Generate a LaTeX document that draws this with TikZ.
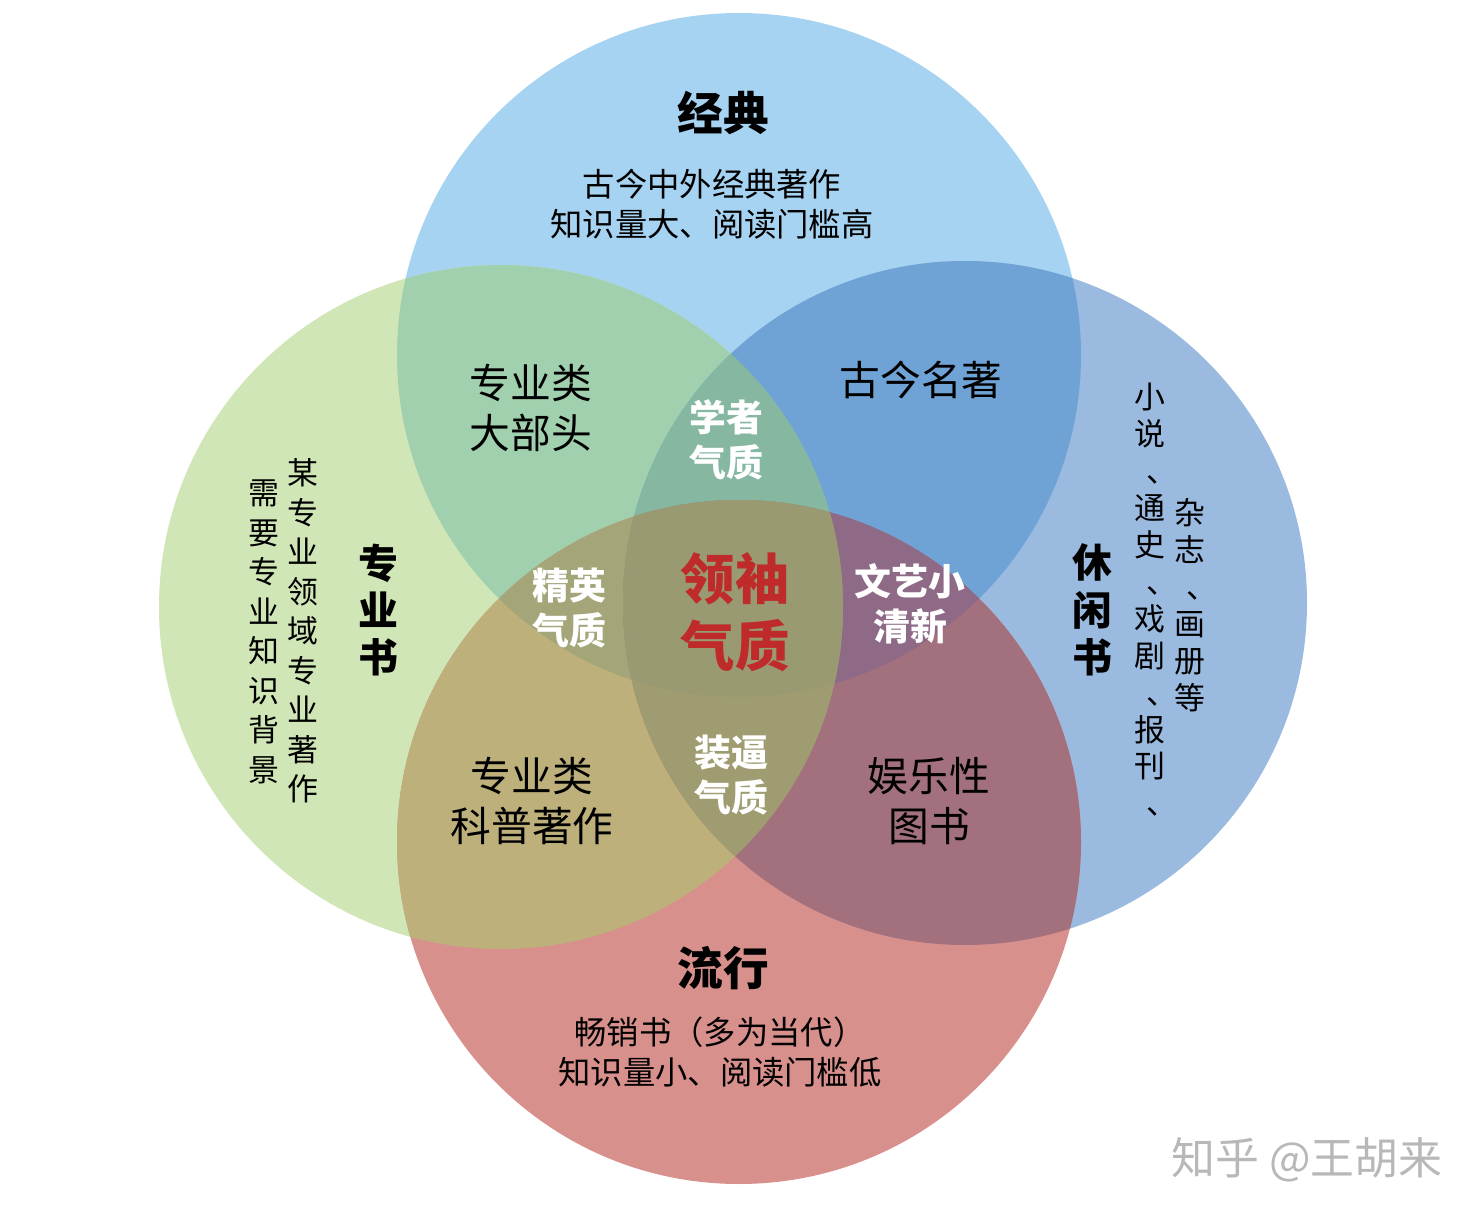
\documentclass[tikz,border=0pt]{standalone}
\usepackage{fontspec}
\setmainfont{Noto Sans CJK SC}
\usepackage{xcolor}
\definecolor{topBlue}{HTML}{A7D3F2}
\definecolor{leftGreen}{HTML}{D1E6B6}
\definecolor{rightBlue}{HTML}{9BBADF}
\definecolor{bottomRed}{HTML}{D8908C}
\definecolor{tlMix}{HTML}{A1D0AF}
\definecolor{trMix}{HTML}{6FA3D6}
\definecolor{lbMix}{HTML}{BDB07A}
\definecolor{rbMix}{HTML}{A3707E}
\definecolor{tlrMix}{HTML}{86B8A1}
\definecolor{tlbMix}{HTML}{A5A57A}
\definecolor{trbMix}{HTML}{8E6A87}
\definecolor{lrbMix}{HTML}{A09C72}
\definecolor{allMix}{HTML}{9A9A72}
\definecolor{coreRed}{HTML}{BE2B2A}
\definecolor{markGray}{HTML}{B8B8B8}
\def\rad{342}
\newcommand\vdun{\makebox[1em][l]{\hspace{0.38em}、}}

\begin{document}
\begin{tikzpicture}[
    x=0.02cm, y=-0.02cm,
    title/.style={font=\fontsize{26pt}{30pt}\selectfont\bfseries},
    note/.style={align=center, font=\fontsize{18.4pt}{22.7pt}\selectfont},
    area/.style={align=center, font=\fontsize{23.2pt}{28.3pt}\selectfont},
    trait/.style={align=center, text=white, font=\fontsize{21pt}{25.5pt}\selectfont\bfseries},
    core/.style={align=center, text=coreRed, font=\fontsize{31pt}{38pt}\selectfont\bfseries},
    vtitle/.style={align=center, font=\fontsize{22.7pt}{27pt}\selectfont\bfseries},
    vnote/.style={align=center, font=\fontsize{17.6pt}{22.5pt}\selectfont},
    vnoteR/.style={align=center, font=\fontsize{17.6pt}{21pt}\selectfont}
]
\fill[white] (0,0) rectangle (1482,1220);
\useasboundingbox (0,0) rectangle (1482,1220);

\coordinate (ct) at (739,355);
\coordinate (cl) at (501,607);
\coordinate (cr) at (965,603);
\coordinate (cb) at (739,842);

\fill[topBlue] (ct) circle[radius=\rad];
\fill[leftGreen] (cl) circle[radius=\rad];
\fill[rightBlue] (cr) circle[radius=\rad];
\fill[bottomRed] (cb) circle[radius=\rad];

\begin{scope}
  \clip (ct) circle[radius=\rad];
  \fill[tlMix] (cl) circle[radius=\rad];
  \fill[trMix] (cr) circle[radius=\rad];
\end{scope}
\begin{scope}
  \clip (cb) circle[radius=\rad];
  \fill[lbMix] (cl) circle[radius=\rad];
  \fill[rbMix] (cr) circle[radius=\rad];
\end{scope}

\begin{scope}
  \clip (ct) circle[radius=\rad];
  \clip (cl) circle[radius=\rad];
  \fill[tlrMix] (cr) circle[radius=\rad];
  \fill[tlbMix] (cb) circle[radius=\rad];
\end{scope}
\begin{scope}
  \clip (cb) circle[radius=\rad];
  \clip (cr) circle[radius=\rad];
  \fill[trbMix] (ct) circle[radius=\rad];
  \fill[lrbMix] (cl) circle[radius=\rad];
\end{scope}
\begin{scope}
  \clip (ct) circle[radius=\rad];
  \clip (cl) circle[radius=\rad];
  \clip (cr) circle[radius=\rad];
  \fill[allMix] (cb) circle[radius=\rad];
\end{scope}

\node[title] (classic) at (723,113) {经典};
\node[note] (classicNote) at (712,204) {古今中外经典著作\\知识量大、阅读门槛高};
\node[title] (popular) at (723,968) {流行};
\node[note] (popularNote) at (720,1052) {畅销书（多为当代）\\知识量小、阅读门槛低};

\node[area] (tome) at (531,408) {专业类\\大部头};
\node[area] (masterpiece) at (921,380) {古今名著};
\node[area] (science) at (532,801) {专业类\\科普著作};
\node[area] (fun) at (929,801) {娱乐性\\图书};

\node[trait] (scholar) at (726,440) {学者\\气质};
\node[trait] (elite) at (569,608) {精英\\气质};
\node[trait] (artsy) at (910,604) {文艺小\\清新};
\node[trait] (poser) at (731,775) {装逼\\气质};
\node[core] (leader) at (735,612) {领袖\\气质};

\node[vtitle] (proBook) at (378,610) {专\\业\\书};
\node[vnote] (proNoteA) at (303,631) {某\\专\\业\\领\\域\\专\\业\\著\\作};
\node[vnote] (proNoteB) at (264,632) {需\\要\\专\\业\\知\\识\\背\\景};
\node[vtitle] (leisure) at (1092,610) {休\\闲\\书};
\node[vnoteR] (leisureNoteA) at (1150,600) {小\\说\\\vdun\\通\\史\\\vdun\\戏\\剧\\\vdun\\报\\刊\\\vdun};
\node[vnoteR] (leisureNoteB) at (1190,605) {杂\\志\\\vdun\\画\\册\\等};

\node[text=markGray, font=\fontsize{25pt}{30pt}\selectfont] (mark) at (1307,1160) {知乎 @王胡来};
\end{tikzpicture}
\end{document}
